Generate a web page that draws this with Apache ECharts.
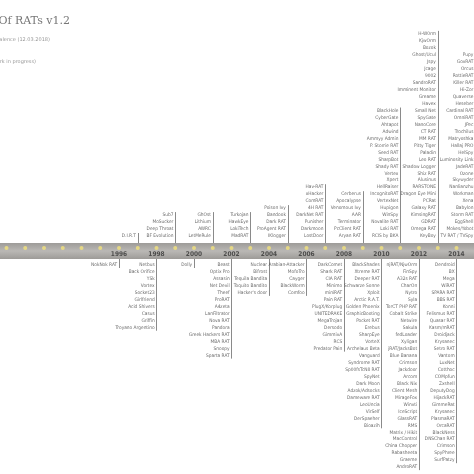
<!DOCTYPE html>
<html><head><meta charset="utf-8">
<script src="https://cdn.jsdelivr.net/npm/echarts@6/dist/echarts.min.js"></script>
<style>html,body{margin:0;padding:0;background:#fff}#c{width:474px;height:474px}</style>
</head><body><div id="c"></div>
<script>
const years = [1990,1991,1992,1993,1994,1995,1996,1997,1998,1999,2000,2001,2002,2003,2004,2005,2006,2007,2008,2009,2010,2011,2012,2013,2014,2015,2016];
const yearLabels = [1996,1998,2000,2002,2004,2006,2008,2010,2012,2014];
const above1997 = ["D.I.R.T"];
const above1999 = ["Sub7","MoSucker","Deep Throat","BF Evolution"];
const above2001 = ["GhOst","Lithium","AWRC","LetMeRule"];
const above2003 = ["Turkojan","HawkEye","LokiTech","MadRAT"];
const above2005 = ["Poison Ivy","Bandook","Dark RAT","ProAgent RAT","IKlogger"];
const above2007 = ["Hav-RAT","xHacker","ComRAT","4H RAT","DarkNet RAT","Punisher","Darkmoon","LostDoor"];
const above2009 = ["Cerberus","Apocalypse","Venomous Ivy","AAR","Terminator","PcClient RAT","Aryan RAT"];
const above2011 = ["BlackHole","CyberGate","Ahtapot","Adwind","Ammyy Admin","P. Storrie RAT","Seed RAT","SharpBot","Shady RAT","Vertex","Xpert","HellRaiser","IncognitoRAT","VertexNet","Hupigon","WinSpy","Novalite RAT","Loki RAT","RCIS by BKA"];
const above2013 = ["H-W0rm","KjwOrm","Bozok","Ghost/Ucul","Jspy","Jcage","9002","SandroRAT","Imminent Monitor","Greame","Havex","Small Net","SpyGate","NanoCore","CT RAT","MM RAT","Pitty Tiger","Paladin","Leo RAT","Shadow Logger","Shiz RAT","Alusinus","RARSTONE","Dragon Eye Mini","PCRat","Galaxy RAT","KimsingRAT","GDRAT","Omega RAT","KeyBoy"];
const above2015 = ["Pupy","GovRAT","Orcus","RottieRAT","Killer RAT","Hi-Zor","Quaverse","Heseber","Cardinal RAT","OmniRAT","JPec","Trochilus","Matryoshka","Hallaj PRO","HelSpy","Luminosity Link","JadeRAT","Ozone","Skywyder","Nanlianzhu","Workman","Xena","Babylon","Storm RAT","EggShell","Mokes/Yobot","TV RAT / TVSpy"];
const below1996 = ["NokNok RAT"];
const below1998 = ["Netbus","Back Orifice","YSk","Vortex","Socket23","Girlfriend","Acid Shivers","Casus","Griffin","Troyano Argentino"];
const below2000 = ["Dolly"];
const below2002 = ["Beast","Optix Pro","Assasin","Net Devil","Theef","ProRAT","A4zeta","LanFiltrator","Nova RAT","Pandora","Greek Hackers RAT","MBA RAT","Snoopy","Sparta RAT"];
const below2004 = ["Nuclear","Bifrost","Tequila Bandita","Toquito Bandito","Hacker's door"];
const below2006 = ["Arabian-Attacker","MofoTro","Cayger","BlackWorm","Comfoo"];
const below2008 = ["DarkComet","Shark RAT","CIA RAT","Minimo","miniRAT","Pain RAT","PlugX/Korplug","UNITEDRAKE","MegaTrojan","Dersodo","GimmivA","RCS","Predator Pain"];
const below2010 = ["BlackShades","Xtreme RAT","Deeper RAT","Schwarze Sonne","Xploit","Arctic R.A.T.","Golden Phoenix","GraphicBooting","Pocket RAT","Erebus","SharpEye","VorteX","Archelaus Beta","Vanguard","Syndrome RAT","Sp00fsTcN8 RAT","SpyNet","Dark Moon","Adzok/Adsocks","Dameware RAT","LeoUncia","VirSelf","DerSpaeher","Bioazih"];
const below2012 = ["njRAT/NjwOrm","FinSpy","A32s RAT","CharOn","Nytro","Syla","TorCT PHP RAT","Cobalt Strike","Netwire","Sakula","fedLoader","Xyligan","jRAT/JacksBot","Blue Banana","Crimson","Jackdoor","Arcom","Black Nix","Client Mesh","MirageFox","Winvti","IceScript","GlassRAT","RMS","Matrix / Hikit","MacControl","China Chopper","Rabasheeta","Graeme","AndroRAT"];
const below2014 = ["Dendroid","BX","Mega","WiRAT","SPARA RAT","BBS RAT","Konni","Felismus RAT","Quasar RAT","Kasm/mRAT","Droidjack","Krysanec","Setro RAT","Vantom","LuxNet","Cotthoc","COMpfun","Zxshell","DeputyDog","HijackRAT","GimmeRat","Krysanec","PlasmaRAT","OrcaRAT","BlackNess","DNSChan RAT","Crimson","SpyPhree","SurfPatzy"];

const aboveGroups = [[1997,above1997],[1999,above1999],[2001,above2001],[2003,above2003],[2005,above2005],[2007,above2007],[2009,above2009],[2011,above2011],[2013,above2013],[2015,above2015]];
const belowGroups = [[1996,below1996],[1998,below1998],[2000,below2000],[2002,below2002],[2004,below2004],[2006,below2006],[2008,below2008],[2010,below2010],[2012,below2012],[2014,below2014]];

const STEP = 6.97, BAND_TOP = 243, BAND_BOT = 259, ABOVE_BASE = 236, BELOW_BASE = 265;
const labels = [], lines = [];
const XOFF = -0.1;
aboveGroups.forEach(([yr, arr]) => {
  const n = arr.length;
  arr.forEach((name, i) => labels.push({name, value:[yr+XOFF, ABOVE_BASE - (n-1-i)*STEP]}));
  lines.push({coords:[[yr, BAND_TOP],[yr, ABOVE_BASE-(n-1)*STEP-3]]});
});
belowGroups.forEach(([yr, arr]) => {
  const n = arr.length;
  arr.forEach((name, i) => labels.push({name, value:[yr+XOFF, BELOW_BASE + i*STEP]}));
  lines.push({coords:[[yr, BAND_BOT],[yr, BELOW_BASE+(n-1)*STEP+3]]});
});

const chart = echarts.init(document.getElementById('c'));
chart.setOption({
  animation:false,
  grid:{left:0,right:0,top:0,bottom:0},
  xAxis:{type:'value',min:1989.653,max:2014.933,show:false},
  yAxis:{type:'value',min:0,max:474,inverse:true,show:false},
  graphic:[
    {type:'text',right:404,top:16,style:{text:'The Evolution Of RATs v1.2',fill:'#777',font:'11px "DejaVu Serif"',textAlign:'right'}},
    {type:'text',right:424,top:37,style:{text:'by Valence (12.03.2018)',fill:'#999',font:'5px "DejaVu Sans"',textAlign:'right'}},
    {type:'text',right:438,top:59,style:{text:'(Work in progress)',fill:'#999',font:'5px "DejaVu Sans"',textAlign:'right'}}
  ],
  series:[
    {type:'line',data:[],markArea:{silent:true,itemStyle:{color:{type:'linear',x:0,y:0,x2:0,y2:1,colorStops:[{offset:0,color:'#9d9b98'},{offset:0.5,color:'#bab8b5'},{offset:1,color:'#9d9b98'}]}},
      data:[[{xAxis:1989.653,yAxis:BAND_TOP},{xAxis:2014.933,yAxis:BAND_BOT}]]}},
    {type:'lines',coordinateSystem:'cartesian2d',polyline:false,silent:true,lineStyle:{color:'#8a8a8a',width:1,opacity:1},data:lines},
    {type:'scatter',symbolSize:4,itemStyle:{color:'#f3e27c'},data:years.map(y=>[y,248])},
    {type:'scatter',symbolSize:0,data:yearLabels.map(y=>({value:[y,254.5],name:String(y)})),
      label:{show:true,position:'inside',formatter:'{b}',color:'#333',fontSize:6.5,fontWeight:'bold',fontFamily:'DejaVu Sans Condensed'}},
    {type:'scatter',symbolSize:0,data:labels,
      label:{show:true,position:'left',distance:0,formatter:'{b}',color:'#444',fontSize:4.8,fontFamily:'"DejaVu Sans Condensed"'}}
  ]
});
</script></body></html>
